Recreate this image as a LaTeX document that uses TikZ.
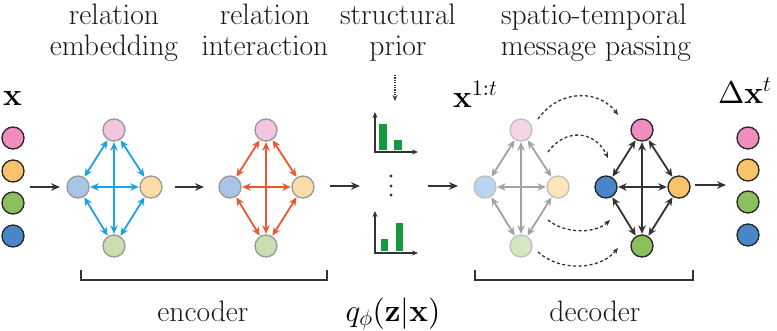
\RequirePackage{fix-cm}
\documentclass[tikz,border=0pt]{standalone}
\usepackage[OT1]{fontenc}
\DeclareFontShape{OT1}{cmr}{m}{n}{<-> cmr10}{}
\usetikzlibrary{arrows.meta}
\definecolor{cblue}{HTML}{1AA3E3}
\definecolor{cred}{HTML}{E9582E}
\definecolor{ink}{HTML}{333333}
\definecolor{cgray}{HTML}{A2A2A2}
\definecolor{lpink}{HTML}{F3C4DE}
\definecolor{lblue}{HTML}{A8C5E8}
\definecolor{lorange}{HTML}{FCDDA9}
\definecolor{lgreen}{HTML}{CADFB0}
\definecolor{fpink}{HTML}{F6D4E7}
\definecolor{fblue}{HTML}{B9D5EF}
\definecolor{forange}{HTML}{FDE5BC}
\definecolor{fgreen}{HTML}{D4E7C2}
\definecolor{dpink}{HTML}{EE8DBE}
\definecolor{dorange}{HTML}{F8C36B}
\definecolor{dgreen}{HTML}{8CC05C}
\definecolor{dblue}{HTML}{4986C9}
\definecolor{bargreen}{HTML}{139A3C}
\tikzset{
  etip/.tip={Stealth[length=8.5pt,width=7.5pt]},
  mtip/.tip={Stealth[length=9pt,width=7.5pt]},
  atip/.tip={Stealth[length=6pt,width=5pt]},
  stip/.tip={Stealth[length=6pt,width=5pt]},
  nd/.style={circle, minimum size=22pt, inner sep=0pt, line width=1.3pt},
  lnode/.style={nd, draw=black!40},
  fnode/.style={nd, draw=black!25},
  dnode/.style={nd, draw=black!85},
  bedge/.style={draw=cblue, line width=1.8pt, etip-etip, shorten <=0.5pt, shorten >=0.5pt},
  redge/.style={draw=cred, line width=1.8pt, etip-etip, shorten <=0.5pt, shorten >=0.5pt},
  gedge/.style={draw=cgray, line width=1.8pt, etip-etip, shorten <=0.5pt, shorten >=0.5pt},
  kedge/.style={draw=ink, line width=1.8pt, etip-etip, shorten <=0.5pt, shorten >=0.5pt},
  marrow/.style={draw=ink, line width=1.6pt, -mtip},
  dasharrow/.style={draw=ink, line width=1.3pt, dash pattern=on 3pt off 2.5pt, -stip},
  axis/.style={draw=ink, line width=1.6pt, atip-atip},
  bar/.style={fill=bargreen},
  bracket/.style={draw=ink, line width=1.3pt},
  txt/.style={anchor=base, inner sep=0pt, text=black!90, font=\fontsize{29.6}{34}\selectfont},
  mtxt/.style={anchor=base, inner sep=0pt, font=\fontsize{31.5}{36}\selectfont}
}
\newcommand\drawgraph[8]{%
  \node[#3, fill=#5] (#1t) at (#2,130) {};
  \node[#3, fill=#6] (#1l) at (#2-36,187) {};
  \node[#3, fill=#7] (#1r) at (#2+37,187) {};
  \node[#3, fill=#8] (#1b) at (#2,246) {};
  \draw[#4] (#1t) -- (#1l);
  \draw[#4] (#1t) -- (#1r);
  \draw[#4] (#1l) -- (#1b);
  \draw[#4] (#1r) -- (#1b);
  \draw[#4] (#1t) -- (#1b);
  \draw[#4] (#1l) -- (#1r);
}
\begin{document}
\begin{tikzpicture}[x=1pt, y=-1pt]
\useasboundingbox (0,0) rectangle (777,330);

% top labels
\node[txt] (t1a) at (114,24) {relation};
\node[txt] (t1b) at (114,55) {embedding};
\node[txt] (t2a) at (265,24) {relation};
\node[txt] (t2b) at (265,55) {interaction};
\node[txt] (t3a) at (398,24) {structural};
\node[txt] (t3b) at (398,55) {prior};
\node[txt] (t4a) at (594,24) {spatio-temporal};
\node[txt] (t4b) at (596,55) {message passing};

% input column
\node[mtxt] (xin) at (12.5,105) {$\mathbf{x}$};
\node[dnode, fill=dpink] (i1) at (13,138) {};
\node[dnode, fill=dorange] (i2) at (13,171) {};
\node[dnode, fill=dgreen] (i3) at (13,203) {};
\node[dnode, fill=dblue] (i4) at (13,236) {};

% graphs
\drawgraph{ga}{114}{lnode}{bedge}{lpink}{lblue}{lorange}{lgreen}
\drawgraph{gb}{266}{lnode}{redge}{lpink}{lblue}{lorange}{lgreen}
\drawgraph{gc}{521}{fnode}{gedge}{fpink}{fblue}{forange}{fgreen}
\drawgraph{gd}{642}{dnode}{kedge}{dpink}{dblue}{dorange}{dgreen}

% output column
\node[mtxt, anchor=base west] (xt) at (453,107) {$\mathbf{x}^{1:t}$};
\node[mtxt, anchor=base west] (dx) at (718,103) {$\Delta\mathbf{x}^t$};
\node[dnode, fill=dpink] (o1) at (748,138) {};
\node[dnode, fill=dorange] (o2) at (748,170) {};
\node[dnode, fill=dgreen] (o3) at (748,202) {};
\node[dnode, fill=dblue] (o4) at (748,235) {};

% main arrows
\coordinate (a1s) at (30,187);  \coordinate (a1e) at (60,187);
\coordinate (a2s) at (175,187); \coordinate (a2e) at (204,187);
\coordinate (a3s) at (330,186); \coordinate (a3e) at (360,186);
\coordinate (a4s) at (428,186); \coordinate (a4e) at (458,186);
\coordinate (a5s) at (695,185); \coordinate (a5e) at (726,185);
\draw[marrow] (a1s) -- (a1e);
\draw[marrow] (a2s) -- (a2e);
\draw[marrow] (a3s) -- (a3e);
\draw[marrow] (a4s) -- (a4e);
\draw[marrow] (a5s) -- (a5e);

% structural prior
\coordinate (ps) at (395,75); \coordinate (pe) at (395,101);
\draw[draw=ink, line width=1.2pt, dash pattern=on 1.2pt off 1.2pt, -stip] (ps) -- (pe);
\draw[axis] (375,112) -- (375,152) -- (418,152);
\fill[bar] (379,124) rectangle (387,150);
\fill[bar] (394,140) rectangle (402,150);
\fill[ink] (391,176) circle (1.7);
\fill[ink] (391,186) circle (1.7);
\fill[ink] (391,195) circle (1.7);
\draw[axis] (375,211) -- (375,253) -- (418,253);
\fill[bar] (381,239) rectangle (388,251);
\fill[bar] (396,223) rectangle (403,251);

% dashed temporal arrows
\coordinate (d1s) at (538,119); \coordinate (d1e) at (618,115);
\coordinate (d2s) at (548,152); \coordinate (d2e) at (608,158);
\coordinate (d3s) at (548,220); \coordinate (d3e) at (610,220);
\coordinate (d4s) at (538,252); \coordinate (d4e) at (618,248);
\draw[dasharrow] (d1s) .. controls (560,88) and (600,90) .. (d1e);
\draw[dasharrow] (d2s) .. controls (565,128) and (595,130) .. (d2e);
\draw[dasharrow] (d3s) .. controls (565,234) and (595,234) .. (d3e);
\draw[dasharrow] (d4s) .. controls (560,272) and (600,270) .. (d4e);

% brackets
\draw[bracket] (81,270) -- (81,280) -- (327,280) -- (327,270);
\draw[bracket] (475,270) -- (475,280) -- (693,280) -- (693,270);

% bottom labels
\node[txt] (enc) at (203,321) {encoder};
\node[mtxt] (q) at (393,321) {$q_\phi(\mathbf{z}|\mathbf{x})$};
\node[txt] (dec) at (595,321) {decoder};
\end{tikzpicture}
\end{document}
